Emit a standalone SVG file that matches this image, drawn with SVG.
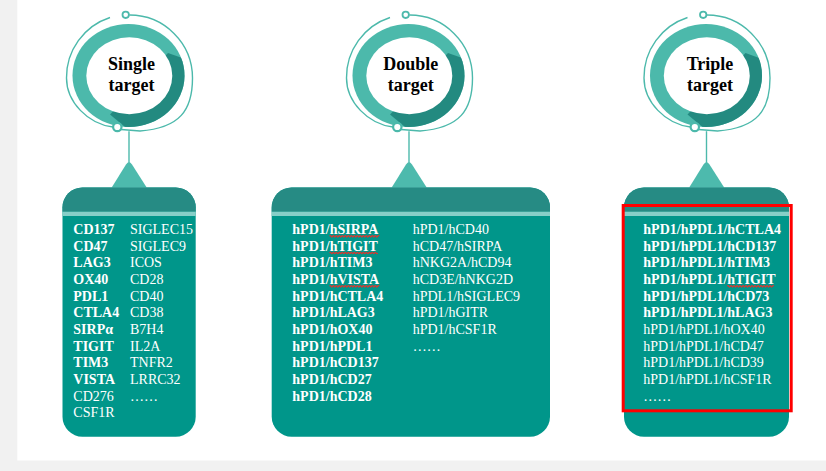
<svg xmlns="http://www.w3.org/2000/svg" width="826" height="471" viewBox="0 0 826 471">
<defs>
<style>
.ring{fill:#4cb9ab}
.shade{fill:#238a80}
.thin{fill:none;stroke:#4cb9ab;stroke-width:1.4}
.dot{fill:#fff;stroke:#4cb9ab}
.tri{fill:#4dbaad}
.body{fill:#00968a}
.head{fill:#268b84}
.stripe{fill:#86cfc8}
.title{font-family:"Liberation Serif","Times New Roman",serif;font-size:18px;font-weight:bold;fill:#000;text-anchor:middle}
.t{font-family:"Liberation Serif","Times New Roman",serif;font-size:14px;fill:#fff}
.b{font-weight:bold}
.wave{fill:none;stroke:#e8302a;stroke-width:1.1}
.hl{fill:none;stroke:#ff0000;stroke-width:3}
</style>
<clipPath id="outerClip"><ellipse cx="128.5" cy="75.5" rx="56" ry="51.5"/></clipPath>
<g id="emblem">
 <path class="thin" d="M110,17.5 A63,63 0 0 0 66.5,78 C66.5,102 88,124 113,127"/>
 <path class="thin" d="M129.3,15 A63,63 0 0 1 192.5,78 C192.5,110 180,128 140,131 L121,129.5"/>
 <path class="thin" d="M129,131.2 V163"/>
 <ellipse class="ring" cx="128.5" cy="75.5" rx="56" ry="51.5"/>
 <polygon class="shade" clip-path="url(#outerClip)" points="168,53 196,63 205,150 146,144.5 110,114.5"/>
 <ellipse fill="#fff" cx="129.3" cy="75.7" rx="43" ry="38.5"/>
 <circle class="dot" cx="125.7" cy="14.8" r="3.2" stroke-width="1.8"/>
 <circle class="dot" cx="117.3" cy="127" r="4.2" stroke-width="2.2"/>
 <path class="tri" d="M111.7,187.5 L126,164.5 Q129,160 132,164.5 L146.7,187.5 Z"/>
</g>
</defs>

<rect x="0" y="0" width="826" height="471" fill="#f1f1f1"/>
<rect x="17.3" y="0" width="808.7" height="460.5" fill="#ffffff"/>

<g id="connectors"></g>

<g id="single-target">
 <use href="#emblem"/>
 <text class="title" x="131.5" y="70.3">Single</text>
 <text class="title" x="131.5" y="91">target</text>
 <rect class="body" x="62.5" y="187.5" width="133.2" height="249.2" rx="20"/>
 <path class="head" d="M62.5,211.7 V207.5 A20,20 0 0 1 82.5,187.5 H175.7 A20,20 0 0 1 195.7,207.5 V211.7 Z"/>
 <rect class="stripe" x="62.5" y="211.7" width="133.2" height="4.3"/>
 <g class="t">
  <text class="b" x="73.3" y="234">CD137</text>
  <text class="b" x="73.3" y="250.67">CD47</text>
  <text class="b" x="73.3" y="267.33">LAG3</text>
  <text class="b" x="73.3" y="284">OX40</text>
  <text class="b" x="73.3" y="300.67">PDL1</text>
  <text class="b" x="73.3" y="317.33">CTLA4</text>
  <text class="b" x="73.3" y="334">SIRPα</text>
  <text class="b" x="73.3" y="350.67">TIGIT</text>
  <text class="b" x="73.3" y="367.33">TIM3</text>
  <text class="b" x="73.3" y="384">VISTA</text>
  <text x="73.3" y="400.67">CD276</text>
  <text x="73.3" y="417.33">CSF1R</text>
  <text x="130" y="234">SIGLEC15</text>
  <text x="130" y="250.67">SIGLEC9</text>
  <text x="130" y="267.33">ICOS</text>
  <text x="130" y="284">CD28</text>
  <text x="130" y="300.67">CD40</text>
  <text x="130" y="317.33">CD38</text>
  <text x="130" y="334">B7H4</text>
  <text x="130" y="350.67">IL2A</text>
  <text x="130" y="367.33">TNFR2</text>
  <text x="130" y="384">LRRC32</text>
  <text x="130" y="400.67">……</text>
 </g>
</g>

<g id="double-target">
 <use href="#emblem" transform="translate(280,0)"/>
 <text class="title" x="410.8" y="70.3">Double</text>
 <text class="title" x="410.8" y="91">target</text>
 <rect class="body" x="271.7" y="187.5" width="278.3" height="249.2" rx="20"/>
 <path class="head" d="M271.7,211.7 V207.5 A20,20 0 0 1 291.7,187.5 H530 A20,20 0 0 1 550,207.5 V211.7 Z"/>
 <rect class="stripe" x="271.7" y="211.7" width="278.3" height="4.3"/>
 <g class="t">
  <text class="b" x="292.3" y="234">hPD1/hSIRPA</text>
  <text class="b" x="292.3" y="250.67">hPD1/hTIGIT</text>
  <text class="b" x="292.3" y="267.33">hPD1/hTIM3</text>
  <text class="b" x="292.3" y="284">hPD1/hVISTA</text>
  <text class="b" x="292.3" y="300.67">hPD1/hCTLA4</text>
  <text class="b" x="292.3" y="317.33">hPD1/hLAG3</text>
  <text class="b" x="292.3" y="334">hPD1/hOX40</text>
  <text class="b" x="292.3" y="350.67">hPD1/hPDL1</text>
  <text class="b" x="292.3" y="367.33">hPD1/hCD137</text>
  <text class="b" x="292.3" y="384">hPD1/hCD27</text>
  <text class="b" x="292.3" y="400.67">hPD1/hCD28</text>
  <text x="412.7" y="234">hPD1/hCD40</text>
  <text x="412.7" y="250.67">hCD47/hSIRPA</text>
  <text x="412.7" y="267.33">hNKG2A/hCD94</text>
  <text x="412.7" y="284">hCD3E/hNKG2D</text>
  <text x="412.7" y="300.67">hPDL1/hSIGLEC9</text>
  <text x="412.7" y="317.33">hPD1/hGITR</text>
  <text x="412.7" y="334">hPD1/hCSF1R</text>
  <text x="412.7" y="350.67">……</text>
 </g>
 <path class="wave" d="M329.6,236.3 q0.75,-1.6 1.5,0 t1.5,0 t1.5,0 t1.5,0 t1.5,0 t1.5,0 t1.5,0 t1.5,0 t1.5,0 t1.5,0 t1.5,0 t1.5,0 t1.5,0 t1.5,0 t1.5,0 t1.5,0 t1.5,0 t1.5,0 t1.5,0 t1.5,0 t1.5,0 t1.5,0 t1.5,0 t1.5,0 t1.5,0 t1.5,0 t1.5,0 t1.5,0 t1.5,0 t1.5,0 t1.5,0 t1.5,0 t1.5,0"/>
 <path class="wave" d="M329.6,253 q0.75,-1.6 1.5,0 t1.5,0 t1.5,0 t1.5,0 t1.5,0 t1.5,0 t1.5,0 t1.5,0 t1.5,0 t1.5,0 t1.5,0 t1.5,0 t1.5,0 t1.5,0 t1.5,0 t1.5,0 t1.5,0 t1.5,0 t1.5,0 t1.5,0 t1.5,0 t1.5,0 t1.5,0 t1.5,0 t1.5,0 t1.5,0 t1.5,0 t1.5,0 t1.5,0 t1.5,0 t1.5,0 t1.5,0"/>
 <path class="wave" d="M329.6,286.3 q0.75,-1.6 1.5,0 t1.5,0 t1.5,0 t1.5,0 t1.5,0 t1.5,0 t1.5,0 t1.5,0 t1.5,0 t1.5,0 t1.5,0 t1.5,0 t1.5,0 t1.5,0 t1.5,0 t1.5,0 t1.5,0 t1.5,0 t1.5,0 t1.5,0 t1.5,0 t1.5,0 t1.5,0 t1.5,0 t1.5,0 t1.5,0 t1.5,0 t1.5,0 t1.5,0 t1.5,0 t1.5,0 t1.5,0 t1.5,0"/>
</g>

<g id="triple-target">
 <use href="#emblem" transform="translate(577.5,0)"/>
 <text class="title" x="710" y="70.3">Triple</text>
 <text class="title" x="710" y="91">target</text>
 <rect class="body" x="624" y="187.5" width="165" height="249.2" rx="20"/>
 <path class="head" d="M624,211.7 V207.5 A20,20 0 0 1 644,187.5 H769 A20,20 0 0 1 789,207.5 V211.7 Z"/>
 <rect class="stripe" x="624" y="211.7" width="165" height="4.3"/>
 <g class="t">
  <text class="b" x="643.3" y="234">hPD1/hPDL1/hCTLA4</text>
  <text class="b" x="643.3" y="250.67">hPD1/hPDL1/hCD137</text>
  <text class="b" x="643.3" y="267.33">hPD1/hPDL1/hTIM3</text>
  <text class="b" x="643.3" y="284">hPD1/hPDL1/hTIGIT</text>
  <text class="b" x="643.3" y="300.67">hPD1/hPDL1/hCD73</text>
  <text class="b" x="643.3" y="317.33">hPD1/hPDL1/hLAG3</text>
  <text x="643.3" y="334">hPD1/hPDL1/hOX40</text>
  <text x="643.3" y="350.67">hPD1/hPDL1/hCD47</text>
  <text x="643.3" y="367.33">hPD1/hPDL1/hCD39</text>
  <text x="643.3" y="384">hPD1/hPDL1/hCSF1R</text>
  <text x="643.3" y="400.67">……</text>
 </g>
 <path class="wave" d="M727.3,286.3 q0.75,-1.6 1.5,0 t1.5,0 t1.5,0 t1.5,0 t1.5,0 t1.5,0 t1.5,0 t1.5,0 t1.5,0 t1.5,0 t1.5,0 t1.5,0 t1.5,0 t1.5,0 t1.5,0 t1.5,0 t1.5,0 t1.5,0 t1.5,0 t1.5,0 t1.5,0 t1.5,0 t1.5,0 t1.5,0 t1.5,0 t1.5,0 t1.5,0 t1.5,0 t1.5,0 t1.5,0 t1.5,0"/>
 <rect class="hl" x="623.2" y="205.5" width="168" height="205.3"/>
</g>
</svg>
